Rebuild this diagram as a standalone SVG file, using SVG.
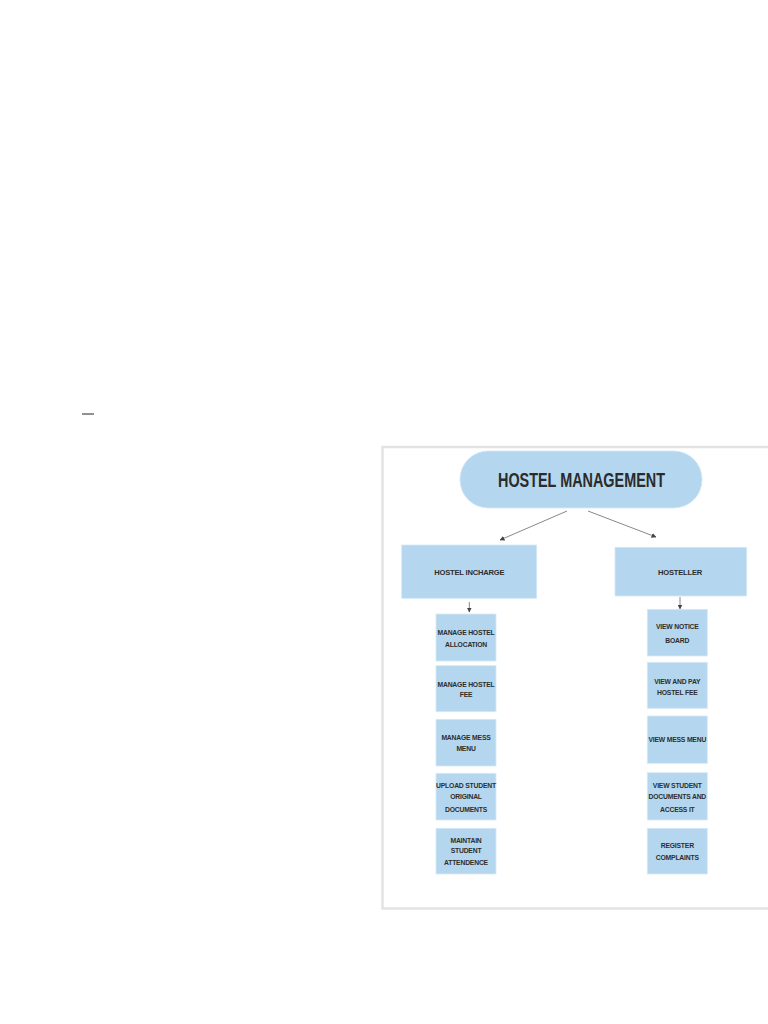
<svg xmlns="http://www.w3.org/2000/svg" width="768" height="1024" viewBox="0 0 768 1024">
<style>
.box{fill:#b4d7ef;stroke:#d6e9f6;stroke-width:0.8}
.t{font-family:"Liberation Sans Narrow","Liberation Sans",Arial,sans-serif;font-weight:bold;font-size:6.8px;fill:#2e2e2e;text-anchor:middle;dominant-baseline:central;letter-spacing:-0.2px}
.h{font-size:7.6px}
.title{font-family:"Liberation Sans Narrow","Liberation Sans",Arial,sans-serif;font-weight:bold;font-size:20px;fill:#2b2b2b;text-anchor:middle}
.c{stroke:#7a7a7a;stroke-width:0.9;fill:none;marker-end:url(#ah)}
</style>
<defs>
<marker id="ah" viewBox="0 0 10 10" refX="9" refY="5" markerWidth="5" markerHeight="5" orient="auto" markerUnits="userSpaceOnUse">
<path d="M0,0 L10,5 L0,10 z" fill="#444"/>
</marker>
</defs>
<rect width="768" height="1024" fill="#ffffff"/>
<line x1="82" y1="414" x2="94" y2="414" stroke="#222" stroke-width="1"/>
<rect x="382.5" y="447" width="390" height="461.5" fill="#ffffff" stroke="#e3e3e3" stroke-width="2.5"/>

<g id="connectors">
<line class="c" x1="567" y1="511" x2="500" y2="540"/>
<line class="c" x1="588" y1="511" x2="656" y2="537"/>
<line class="c" x1="469.3" y1="602" x2="469.3" y2="612"/>
<line class="c" x1="680" y1="597" x2="680" y2="609"/>
</g>

<g id="title">
<rect x="460" y="451" width="242" height="57" rx="28" ry="28" class="box"/>
<text class="title" x="581.5" y="487" textLength="167" lengthAdjust="spacingAndGlyphs">HOSTEL MANAGEMENT</text>
</g>

<g id="hostel-incharge">
<rect class="box" x="401.7" y="545" width="135" height="53.3"/>
<text class="t h" x="469.3" y="572.7">HOSTEL INCHARGE</text>
</g>
<g id="hosteller">
<rect class="box" x="615" y="547.3" width="131.7" height="48.7"/>
<text class="t h" x="680" y="572.7">HOSTELLER</text>
</g>

<g id="manage-allocation">
<rect class="box" x="436" y="614" width="60" height="47"/>
<text class="t" x="466" y="632.3">MANAGE HOSTEL</text>
<text class="t" x="466" y="644">ALLOCATION</text>
</g>
<g id="manage-fee">
<rect class="box" x="436" y="665.7" width="60" height="46"/>
<text class="t" x="466" y="684.3">MANAGE HOSTEL</text>
<text class="t" x="466" y="694.3">FEE</text>
</g>
<g id="manage-mess">
<rect class="box" x="436" y="719.3" width="60" height="46.7"/>
<text class="t" x="466" y="737.3">MANAGE MESS</text>
<text class="t" x="466" y="748.3">MENU</text>
</g>
<g id="upload-docs">
<rect class="box" x="436" y="773.3" width="60" height="46.7"/>
<text class="t" x="466" y="785">UPLOAD STUDENT</text>
<text class="t" x="466" y="796.7">ORIGINAL</text>
<text class="t" x="466" y="809.3">DOCUMENTS</text>
</g>
<g id="maintain-attendence">
<rect class="box" x="436" y="828.3" width="60" height="45.7"/>
<text class="t" x="466" y="840">MAINTAIN</text>
<text class="t" x="466" y="850.7">STUDENT</text>
<text class="t" x="466" y="862.7">ATTENDENCE</text>
</g>

<g id="view-notice">
<rect class="box" x="647.3" y="609.3" width="60" height="46.7"/>
<text class="t" x="677.3" y="626.7">VIEW NOTICE</text>
<text class="t" x="677.3" y="640">BOARD</text>
</g>
<g id="view-pay-fee">
<rect class="box" x="647.3" y="662.3" width="60" height="46"/>
<text class="t" x="677.3" y="681">VIEW AND PAY</text>
<text class="t" x="677.3" y="692.3">HOSTEL FEE</text>
</g>
<g id="view-mess">
<rect class="box" x="647.3" y="716" width="60" height="47.3"/>
<text class="t" x="677.3" y="739.3">VIEW MESS MENU</text>
</g>
<g id="view-docs">
<rect class="box" x="647.3" y="772.7" width="60" height="47.3"/>
<text class="t" x="677.3" y="785">VIEW STUDENT</text>
<text class="t" x="677.3" y="796.7">DOCUMENTS AND</text>
<text class="t" x="677.3" y="809.3">ACCESS IT</text>
</g>
<g id="register-complaints">
<rect class="box" x="647.3" y="828.3" width="60" height="45.7"/>
<text class="t" x="677.3" y="845">REGISTER</text>
<text class="t" x="677.3" y="857.7">COMPLAINTS</text>
</g>
</svg>
